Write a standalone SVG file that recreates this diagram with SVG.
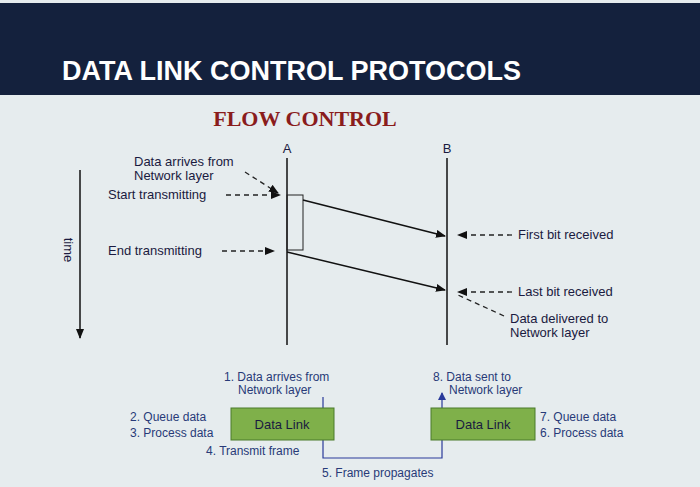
<svg xmlns="http://www.w3.org/2000/svg" width="700" height="487" viewBox="0 0 700 487">
<defs>
<style>
.t{font-family:"Liberation Sans",Arial,sans-serif;font-size:13px;fill:#1a1a40}
.b{font-family:"Liberation Sans",Arial,sans-serif;font-size:12px;fill:#283a78}
.ln{stroke:#111;stroke-width:1.5;fill:none}
.dash{stroke:#222;stroke-width:1.3;stroke-dasharray:5,4;fill:none}
.box{fill:#7fb04a;stroke:#4a7a2a;stroke-width:1}
</style>
<marker id="ah" markerWidth="10" markerHeight="8" refX="9" refY="4" orient="auto" markerUnits="userSpaceOnUse"><path d="M0,0 L10,4 L0,8 z" fill="#111"/></marker>
<marker id="ab" markerWidth="8" markerHeight="8" refX="7" refY="4" orient="auto" markerUnits="userSpaceOnUse"><path d="M0,0 L8,4 L0,8 z" fill="#2a3a9a"/></marker>
</defs>
<rect width="700" height="487" fill="#e6ecee"/>
<rect y="3" width="700" height="92" fill="#14213d"/>
<text x="62" y="80" font-family="Liberation Sans,Arial,sans-serif" font-weight="bold" font-size="27" fill="#fff">DATA LINK CONTROL PROTOCOLS</text>
<text x="305" y="126" text-anchor="middle" font-family="Liberation Serif,serif" font-weight="bold" font-size="22" fill="#8a1c1c">FLOW CONTROL</text>
<g id="nodeA"><text x="287" y="153" text-anchor="middle" class="t" font-size="15">A</text><line class="ln" x1="287" y1="158" x2="287" y2="345"/><rect x="287" y="195" width="16" height="55" fill="none" stroke="#222"/></g>
<g id="nodeB"><text x="447" y="153" text-anchor="middle" class="t" font-size="15">B</text><line class="ln" x1="447" y1="158" x2="447" y2="345"/></g>
<g id="connectors">
<line class="ln" x1="303" y1="200" x2="445" y2="236" marker-end="url(#ah)"/>
<line class="ln" x1="287" y1="252" x2="445" y2="290" marker-end="url(#ah)"/>
<line class="dash" x1="245" y1="172" x2="278" y2="193" marker-end="url(#ah)"/>
<line class="dash" x1="226" y1="195" x2="280" y2="195" marker-end="url(#ah)"/>
<line class="dash" x1="222" y1="251" x2="274" y2="251" marker-end="url(#ah)"/>
<line class="dash" x1="512" y1="235" x2="458" y2="235" marker-end="url(#ah)"/>
<line class="dash" x1="512" y1="292" x2="458" y2="292" marker-end="url(#ah)"/>
<line class="dash" x1="504" y1="316" x2="458" y2="295"/>
<line class="ln" x1="80" y1="170" x2="80" y2="338" stroke-width="1" marker-end="url(#ah)"/>
<path d="M323,397 V458 H442 V393" stroke="#2a3a9a" stroke-width="1.2" fill="none" marker-end="url(#ab)"/>
</g>
<text class="t" transform="translate(64,250) rotate(90)" text-anchor="middle" font-size="12">time</text>
<text class="t" x="134" y="166">Data arrives from</text>
<text class="t" x="134" y="180">Network layer</text>
<text class="t" x="108" y="199">Start transmitting</text>
<text class="t" x="108" y="255">End transmitting</text>
<text class="t" x="518" y="239">First bit received</text>
<text class="t" x="518" y="296">Last bit received</text>
<text class="t" x="510" y="323">Data delivered to</text>
<text class="t" x="510" y="337">Network layer</text>
<g id="dl1"><rect class="box" x="231" y="408" width="103" height="32"/><text class="t" x="282" y="429" text-anchor="middle">Data Link</text></g>
<g id="dl2"><rect class="box" x="431" y="408" width="104" height="32"/><text class="t" x="483" y="429" text-anchor="middle">Data Link</text></g>
<text class="b" x="224" y="381">1. Data arrives from</text>
<text class="b" x="238" y="394">Network layer</text>
<text class="b" x="433" y="381">8. Data sent to</text>
<text class="b" x="449" y="394">Network layer</text>
<text class="b" x="130" y="421">2. Queue data</text>
<text class="b" x="130" y="437">3. Process data</text>
<text class="b" x="540" y="421">7. Queue data</text>
<text class="b" x="540" y="437">6. Process data</text>
<text class="b" x="206" y="455">4. Transmit frame</text>
<text class="b" x="322" y="477">5. Frame propagates</text>
</svg>
